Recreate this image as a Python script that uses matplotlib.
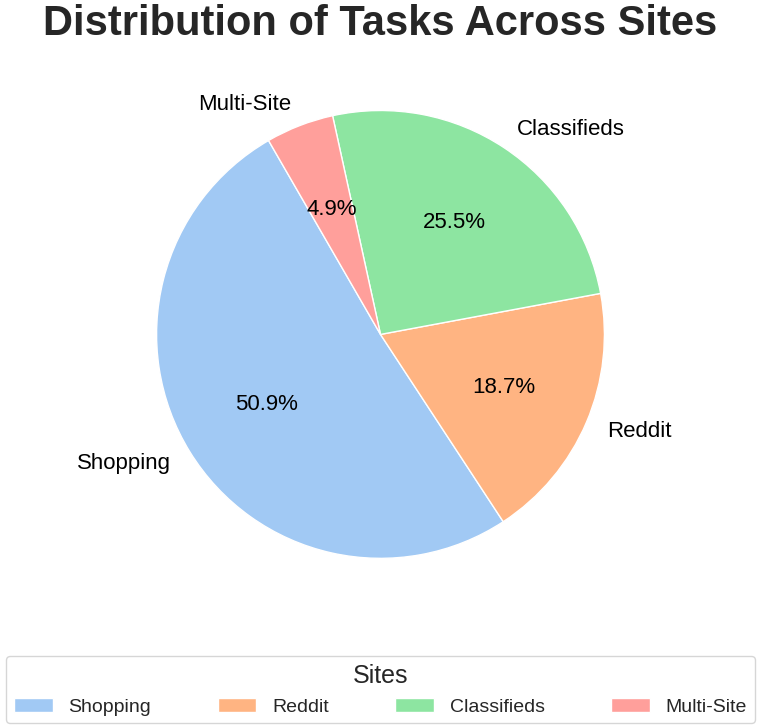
import matplotlib.pyplot as plt
import seaborn as sns

sites = ["Shopping", "Reddit", "Classifieds", "Multi-Site"]
shares = [50.9, 18.7, 25.5, 4.9]

sns.set_theme(style="white")
plt.rcParams["font.family"] = ["Liberation Sans", "DejaVu Sans"]
colors = sns.color_palette("pastel")[:4]

fig = plt.figure(figsize=(7.61, 7.27), dpi=100)
ax = fig.add_axes([0.0, 0.155, 1.0, 0.77])
wedges, _, _ = ax.pie(
    shares,
    labels=sites,
    colors=colors,
    autopct="%1.1f%%",
    startangle=120,
    wedgeprops=dict(edgecolor="white", linewidth=1),
    textprops=dict(fontsize=16, color="black"),
)
ax.set_aspect("equal")
fig.suptitle("Distribution of Tasks Across Sites", fontsize=30, fontweight="bold",
             color="#262626", y=0.995)
fig.legend(wedges, sites, title="Sites", loc="lower left",
           bbox_to_anchor=(0.008, 0.005, 0.984, 0.11), ncol=4, mode="expand",
           fontsize=14, title_fontsize=18, frameon=True, borderaxespad=0)
fig.savefig("out.png")
